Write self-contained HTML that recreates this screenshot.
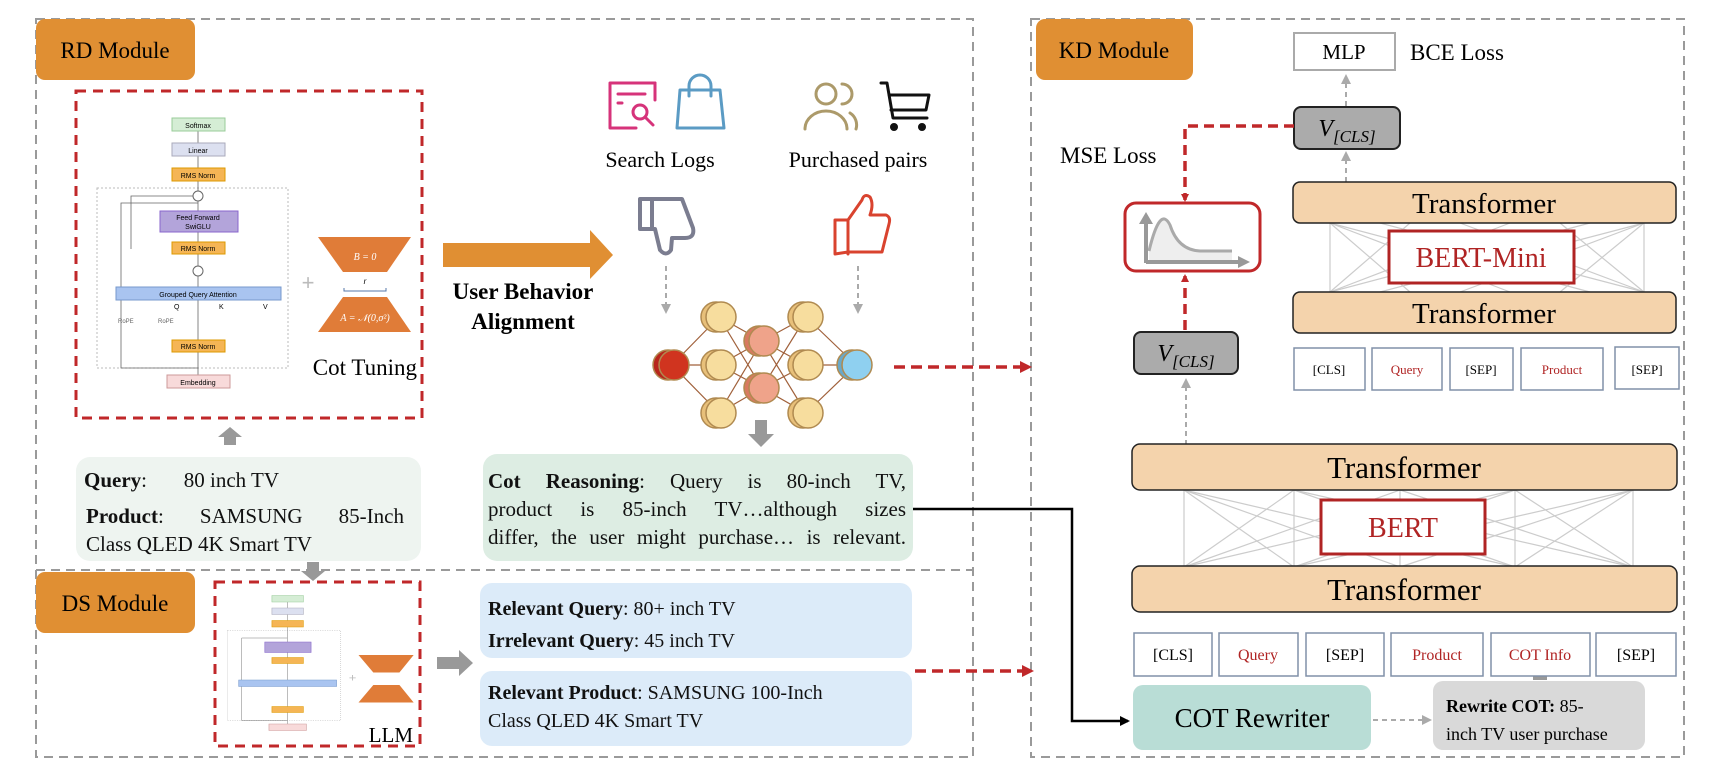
<!DOCTYPE html>
<html><head><meta charset="utf-8"><style>
body{margin:0;background:#fff}
#c{position:relative;width:1714px;height:780px;overflow:hidden;font-family:"Liberation Serif",serif;color:#111}
.t{position:absolute;font-size:20px;line-height:28px}
.j{text-align:justify;text-align-last:justify}
</style></head><body><div id="c">
<svg width="1714" height="780" style="position:absolute;left:0;top:0" font-family="Liberation Serif, serif">
<defs>
<marker id="ar" markerWidth="8" markerHeight="8" refX="6" refY="4" orient="auto" markerUnits="userSpaceOnUse"><path d="M0,0 L8,4 L0,8z" fill="#C0282A"/></marker>
<marker id="ag" markerWidth="10" markerHeight="10" refX="8" refY="5" orient="auto" markerUnits="userSpaceOnUse"><path d="M0,0 L10,5 L0,10z" fill="#aaa"/></marker>
<marker id="ab" markerWidth="10" markerHeight="10" refX="8" refY="5" orient="auto" markerUnits="userSpaceOnUse"><path d="M0,0 L10,5 L0,10z" fill="#000"/></marker>
<marker id="ar2" markerWidth="12" markerHeight="12" refX="10" refY="6" orient="auto" markerUnits="userSpaceOnUse"><path d="M0,0 L12,6 L0,12z" fill="#C0282A"/></marker>
</defs>
<g fill="none" stroke="#9a9a9a" stroke-width="2" stroke-dasharray="9,6">
<rect x="36" y="19" width="937" height="738"/>
<line x1="36" y1="570" x2="973" y2="570"/>
<rect x="1031" y="19" width="653" height="738"/>
</g>
<rect x="36" y="19" width="159" height="61" rx="9" fill="#E08F33"/>
<text x="115" y="58" font-size="23" text-anchor="middle">RD Module</text>
<rect x="36" y="572" width="159" height="61" rx="9" fill="#E08F33"/>
<text x="115" y="611" font-size="23" text-anchor="middle">DS Module</text>
<rect x="1036" y="19" width="157" height="61" rx="9" fill="#E08F33"/>
<text x="1114" y="58" font-size="23" text-anchor="middle">KD Module</text>

<rect x="76" y="91" width="346" height="327" fill="none" stroke="#C0282A" stroke-width="3" stroke-dasharray="10,7"/>
<g transform="translate(76,91)" font-family="Liberation Sans, sans-serif">
<rect x="21" y="97" width="191" height="180" fill="none" stroke="#bbb" stroke-dasharray="2,2"/>
<g stroke="#666" stroke-width="0.8" fill="none">
<line x1="122" y1="40" x2="122" y2="52"/><line x1="122" y1="65" x2="122" y2="77"/><line x1="122" y1="90" x2="122" y2="284"/>
<path d="M122 112 H45 V277 H122"/><path d="M117 105 H55 V158"/>
</g>
<circle cx="122" cy="105" r="5" fill="#fff" stroke="#666"/><circle cx="122" cy="180" r="5" fill="#fff" stroke="#666"/>
<rect x="96" y="27" width="53" height="13" fill="#D5EDD5" stroke="#9c9"/><text x="122" y="37" font-size="7" text-anchor="middle">Softmax</text>
<rect x="96" y="52" width="53" height="13" fill="#DCE0F0" stroke="#aab"/><text x="122" y="62" font-size="7" text-anchor="middle">Linear</text>
<rect x="96" y="77" width="53" height="13" fill="#F5B555" stroke="#d90"/><text x="122" y="87" font-size="7" text-anchor="middle">RMS Norm</text>
<rect x="84" y="120" width="78" height="21" fill="#B3A4DA" stroke="#86c"/><text x="122" y="129" font-size="7" text-anchor="middle">Feed Forward</text><text x="122" y="138" font-size="7" text-anchor="middle">SwiGLU</text>
<rect x="96" y="151" width="53" height="12" fill="#F5B555" stroke="#d90"/><text x="122" y="160" font-size="7" text-anchor="middle">RMS Norm</text>
<rect x="40" y="196" width="165" height="13" fill="#A9C4F0" stroke="#79c"/><text x="122" y="206" font-size="7" text-anchor="middle">Grouped Query Attention</text>
<text x="98" y="218" font-size="7">Q</text><text x="143" y="218" font-size="7">K</text><text x="187" y="218" font-size="7">V</text>
<text x="42" y="232" font-size="6" fill="#666">RoPE</text><text x="82" y="232" font-size="6" fill="#666">RoPE</text>
<rect x="96" y="249" width="53" height="12" fill="#F5B555" stroke="#d90"/><text x="122" y="258" font-size="7" text-anchor="middle">RMS Norm</text>
<rect x="91" y="284" width="63" height="13" fill="#F8DADA" stroke="#c99"/><text x="122" y="294" font-size="7" text-anchor="middle">Embedding</text>
<text x="232" y="199" font-size="22" fill="#bbb" text-anchor="middle">+</text>
<path d="M242 146 H335 L311 181 H267z" fill="#E07C38"/>
<path d="M267 206 H311 L335 241 H242z" fill="#E07C38"/>
<text x="289" y="169" font-size="10" fill="#fff" text-anchor="middle" font-style="italic" font-family="Liberation Serif,serif">B = 0</text>
<text x="289" y="230" font-size="10" fill="#fff" text-anchor="middle" font-style="italic" font-family="Liberation Serif,serif">A = 𝒩(0,σ²)</text>
<path d="M268 197 V200 H310 V197" stroke="#57a" fill="none"/><text x="289" y="193" font-size="8" font-style="italic" text-anchor="middle">r</text>
</g>
<text x="417" y="375" font-size="23" text-anchor="end">Cot Tuning</text>

<rect x="215" y="582" width="205" height="164" fill="none" stroke="#C0282A" stroke-width="3" stroke-dasharray="10,7"/>
<g transform="translate(215,582) scale(0.593,0.5)" font-family="Liberation Sans, sans-serif">
<rect x="21" y="97" width="191" height="180" fill="none" stroke="#bbb" stroke-dasharray="2,2"/>
<g stroke="#666" stroke-width="0.8" fill="none">
<line x1="122" y1="40" x2="122" y2="284"/><path d="M122 112 H45 V277 H122"/>
</g>
<rect x="96" y="27" width="53" height="13" fill="#D5EDD5" stroke="#9c9"/>
<rect x="96" y="52" width="53" height="13" fill="#DCE0F0" stroke="#aab"/>
<rect x="96" y="77" width="53" height="13" fill="#F5B555" stroke="#d90"/>
<rect x="84" y="120" width="78" height="21" fill="#B3A4DA" stroke="#86c"/>
<rect x="96" y="151" width="53" height="12" fill="#F5B555" stroke="#d90"/>
<rect x="40" y="196" width="165" height="13" fill="#A9C4F0" stroke="#79c"/>
<rect x="96" y="249" width="53" height="12" fill="#F5B555" stroke="#d90"/>
<rect x="91" y="284" width="63" height="13" fill="#F8DADA" stroke="#c99"/>
<text x="232" y="199" font-size="22" fill="#bbb" text-anchor="middle">+</text>
<path d="M242 146 H335 L311 181 H267z" fill="#E07C38"/>
<path d="M267 206 H311 L335 241 H242z" fill="#E07C38"/>
</g>
<text x="413" y="742" font-size="21" text-anchor="end">LLM</text>

<path d="M224 445 V437 H218 L230 427 L242 437 H236 V445z" fill="#999"/>
<path d="M307 562 V571 H301 L313 581 L325 571 H319 V562z" fill="#999"/>
<path d="M755 420 V434 H748 L761 447 L774 434 H767 V420z" fill="#999"/>
<path d="M437 657 H459 V650 L473 663 L459 676 V669 H437z" fill="#999"/>
<path d="M1533 680 V670 H1526 L1540 658 L1554 670 H1547 V680z" fill="#999"/>

<path d="M443 243 H590 V230 L613 255 L590 279 V267 H443z" fill="#E08F33"/>
<text x="523" y="299" font-size="23" font-weight="bold" text-anchor="middle">User Behavior</text>
<text x="523" y="329" font-size="23" font-weight="bold" text-anchor="middle">Alignment</text>

<g fill="none" stroke-width="3" stroke-linecap="round" stroke-linejoin="round">
<path d="M655 83 H610 V128 H636" stroke="#D6337A"/><path d="M655 83 V100" stroke="#D6337A"/>
<line x1="618" y1="94" x2="645" y2="94" stroke="#D6337A"/><line x1="618" y1="103" x2="622" y2="103" stroke="#D6337A"/>
<circle cx="640" cy="112" r="7" stroke="#D6337A"/><line x1="645" y1="117" x2="653" y2="125" stroke="#D6337A"/>
<path d="M680 90 H720 L724 128 H677z" stroke="#5B9BC4"/><path d="M689 96 V86 a11 11 0 0 1 22 0 V96" stroke="#5B9BC4"/>
<circle cx="826" cy="94" r="10" stroke="#AC9A6A"/><path d="M805 129 a21 18 0 0 1 42 0" stroke="#AC9A6A"/>
<path d="M842 84 a10 10 0 0 1 0 20" stroke="#AC9A6A"/><path d="M850 113 a14 14 0 0 1 6 16" stroke="#AC9A6A"/>
<path d="M881 83 H887 L893 118 H927 M889 95 H929 L926 110 H891" stroke="#111"/>
<circle cx="894" cy="127" r="2.5" fill="#111" stroke="#111"/><circle cx="922" cy="127" r="2.5" fill="#111" stroke="#111"/>
<path d="M640 199 H682 L693 228 Q695 238 685 238 H672 L671 250 Q666 257 660 250 L655 229 H640z M652 199 V229" stroke="#7B7D90" stroke-width="4"/>
<path d="M835 254 V220 H848 L862 200 Q864 193 870 197 Q874 204 870 215 H886 Q891 217 889 224 L882 252 H848z M848 220 V254" stroke="#D9432F" stroke-width="3"/>
</g>
<text x="660" y="167" font-size="22" text-anchor="middle">Search Logs</text>
<text x="858" y="167" font-size="22" text-anchor="middle">Purchased pairs</text>
<g stroke="#aaa" stroke-width="2" stroke-dasharray="5,4">
<line x1="666" y1="266" x2="666" y2="312" marker-end="url(#ag)"/>
<line x1="858" y1="266" x2="858" y2="312" marker-end="url(#ag)"/>
</g>

<g stroke="#A0603A" stroke-width="1.2">
<line x1="672" y1="365" x2="719" y2="317"/><line x1="672" y1="365" x2="719" y2="365"/><line x1="672" y1="365" x2="719" y2="413"/>
<line x1="719" y1="317" x2="762" y2="341"/><line x1="719" y1="317" x2="762" y2="388"/>
<line x1="719" y1="365" x2="762" y2="341"/><line x1="719" y1="365" x2="762" y2="388"/>
<line x1="719" y1="413" x2="762" y2="341"/><line x1="719" y1="413" x2="762" y2="388"/>
<line x1="806" y1="317" x2="762" y2="341"/><line x1="806" y1="317" x2="762" y2="388"/>
<line x1="806" y1="365" x2="762" y2="341"/><line x1="806" y1="365" x2="762" y2="388"/>
<line x1="806" y1="413" x2="762" y2="341"/><line x1="806" y1="413" x2="762" y2="388"/>
<line x1="856" y1="365" x2="806" y2="317"/><line x1="856" y1="365" x2="806" y2="365"/><line x1="856" y1="365" x2="806" y2="413"/>
</g>
<g stroke="#B08A50" stroke-width="1.5">
<circle cx="668" cy="365" r="15" fill="#B8261C"/><circle cx="674" cy="365" r="15" fill="#D0341F"/>
<circle cx="716" cy="317" r="15" fill="#E8C07A"/><circle cx="721" cy="317" r="15" fill="#F7DD9E"/>
<circle cx="716" cy="365" r="15" fill="#E8C07A"/><circle cx="721" cy="365" r="15" fill="#F7DD9E"/>
<circle cx="716" cy="413" r="15" fill="#E8C07A"/><circle cx="721" cy="413" r="15" fill="#F7DD9E"/>
<circle cx="759" cy="341" r="15" fill="#D87A60"/><circle cx="764" cy="341" r="15" fill="#EFA38A"/>
<circle cx="759" cy="388" r="15" fill="#D87A60"/><circle cx="764" cy="388" r="15" fill="#EFA38A"/>
<circle cx="803" cy="317" r="15" fill="#E8C07A"/><circle cx="808" cy="317" r="15" fill="#F7DD9E"/>
<circle cx="803" cy="365" r="15" fill="#E8C07A"/><circle cx="808" cy="365" r="15" fill="#F7DD9E"/>
<circle cx="803" cy="413" r="15" fill="#E8C07A"/><circle cx="808" cy="413" r="15" fill="#F7DD9E"/>
<circle cx="852" cy="365" r="15" fill="#6aa8c8"/><circle cx="857" cy="365" r="15" fill="#8FD0F0"/>
</g>

<rect x="76" y="457" width="345" height="104" rx="14" fill="#EEF4F0"/>
<rect x="483" y="454" width="430" height="107" rx="14" fill="#DDEDE3"/>
<rect x="480" y="583" width="432" height="75" rx="12" fill="#DCEBF9"/>
<rect x="480" y="671" width="432" height="75" rx="12" fill="#DCEBF9"/>

<line x1="894" y1="367" x2="1030" y2="367" stroke="#C0282A" stroke-width="3.5" stroke-dasharray="11,6" marker-end="url(#ar2)"/>
<line x1="915" y1="671" x2="1032" y2="671" stroke="#C0282A" stroke-width="3.5" stroke-dasharray="11,6" marker-end="url(#ar2)"/>
<path d="M913 509 H1072 V721 H1128" fill="none" stroke="#000" stroke-width="2.5" marker-end="url(#ab)"/>

<rect x="1294" y="33" width="101" height="37" fill="#fff" stroke="#aaa" stroke-width="2"/>
<text x="1344" y="59" font-size="21" text-anchor="middle">MLP</text>
<text x="1410" y="60" font-size="23">BCE Loss</text>
<g stroke="#aaa" stroke-width="2" stroke-dasharray="5,4">
<line x1="1346" y1="106" x2="1346" y2="76" marker-end="url(#ag)"/>
<line x1="1346" y1="182" x2="1346" y2="153" marker-end="url(#ag)"/>
<line x1="1186" y1="445" x2="1186" y2="380" marker-end="url(#ag)"/>
<line x1="1373" y1="720" x2="1430" y2="720" marker-end="url(#ag)"/>
</g>
<rect x="1294" y="107" width="106" height="42" rx="7" fill="#ABABAB" stroke="#222" stroke-width="2"/>
<text x="1347" y="136" font-size="24" text-anchor="middle" font-style="italic">V<tspan font-size="17" dy="6">[CLS]</tspan></text>
<rect x="1134" y="332" width="104" height="42" rx="7" fill="#ABABAB" stroke="#222" stroke-width="2"/>
<text x="1186" y="361" font-size="24" text-anchor="middle" font-style="italic">V<tspan font-size="17" dy="6">[CLS]</tspan></text>
<text x="1060" y="163" font-size="23">MSE Loss</text>
<path d="M1294 126 H1185 V200" fill="none" stroke="#C0282A" stroke-width="3.5" stroke-dasharray="10,6" marker-end="url(#ar)"/>
<path d="M1185 330 V276" fill="none" stroke="#C0282A" stroke-width="3.5" stroke-dasharray="10,6" marker-end="url(#ar)"/>
<rect x="1125" y="203" width="135" height="68" rx="11" fill="#fff" stroke="#C0282A" stroke-width="3"/>
<path d="M1149 251 Q1160 205 1170 225 Q1178 250 1200 251 H1232 V260 H1149z" fill="#eee"/>
<path d="M1149 251 Q1160 205 1170 225 Q1178 250 1200 251 H1232" fill="none" stroke="#aaa" stroke-width="3"/>
<path d="M1146 263 V222 M1146 262 H1240" fill="none" stroke="#999" stroke-width="4"/>
<path d="M1139 224 L1146 212 L1153 224z M1238 256 L1250 262 L1238 268z" fill="#999"/>

<g stroke="#ccc" stroke-width="1.2">
<line x1="1330" y1="223" x2="1330" y2="292"/><line x1="1644" y1="223" x2="1644" y2="292"/>
<line x1="1330" y1="223" x2="1410" y2="292"/><line x1="1330" y1="292" x2="1410" y2="223"/>
<line x1="1330" y1="223" x2="1510" y2="292"/><line x1="1330" y1="292" x2="1510" y2="223"/>
<line x1="1330" y1="223" x2="1590" y2="292"/><line x1="1330" y1="292" x2="1590" y2="223"/>
<line x1="1644" y1="223" x2="1560" y2="292"/><line x1="1644" y1="292" x2="1560" y2="223"/>
<line x1="1644" y1="223" x2="1460" y2="292"/><line x1="1644" y1="292" x2="1460" y2="223"/>
<line x1="1644" y1="223" x2="1380" y2="292"/><line x1="1644" y1="292" x2="1380" y2="223"/>
</g>
<rect x="1293" y="182" width="383" height="41" rx="7" fill="#F4D3AC" stroke="#222" stroke-width="1.5"/>
<text x="1484" y="213" font-size="29" text-anchor="middle">Transformer</text>
<rect x="1293" y="292" width="383" height="41" rx="7" fill="#F4D3AC" stroke="#222" stroke-width="1.5"/>
<text x="1484" y="323" font-size="29" text-anchor="middle">Transformer</text>
<rect x="1389" y="231" width="185" height="52" fill="#fff" stroke="#B02424" stroke-width="3"/>
<text x="1481" y="267" font-size="28" fill="#B02424" text-anchor="middle">BERT-Mini</text>
<g fill="#fff" stroke="#8090A8" stroke-width="1.5">
<rect x="1294" y="348" width="71" height="42"/><rect x="1372" y="348" width="70" height="42"/><rect x="1450" y="348" width="63" height="42"/><rect x="1521" y="348" width="82" height="42"/><rect x="1615" y="347" width="64" height="42"/>
</g>
<g font-size="13" text-anchor="middle">
<text x="1329" y="374">[CLS]</text><text x="1407" y="374" fill="#B02424">Query</text><text x="1481" y="374">[SEP]</text><text x="1562" y="374" fill="#B02424">Product</text><text x="1647" y="374">[SEP]</text>
</g>

<g stroke="#ccc" stroke-width="1.2">
<line x1="1184" y1="490" x2="1184" y2="567"/><line x1="1294" y1="490" x2="1294" y2="567"/><line x1="1400" y1="490" x2="1400" y2="567"/><line x1="1515" y1="490" x2="1515" y2="567"/><line x1="1633" y1="490" x2="1633" y2="567"/>
<line x1="1184" y1="490" x2="1294" y2="567"/><line x1="1184" y1="567" x2="1294" y2="490"/>
<line x1="1184" y1="490" x2="1400" y2="567"/><line x1="1184" y1="567" x2="1400" y2="490"/>
<line x1="1294" y1="490" x2="1515" y2="567"/><line x1="1294" y1="567" x2="1515" y2="490"/>
<line x1="1400" y1="490" x2="1633" y2="567"/><line x1="1400" y1="567" x2="1633" y2="490"/>
<line x1="1515" y1="490" x2="1633" y2="567"/><line x1="1515" y1="567" x2="1633" y2="490"/>
<line x1="1184" y1="490" x2="1515" y2="567"/><line x1="1184" y1="567" x2="1515" y2="490"/>
<line x1="1294" y1="490" x2="1633" y2="567"/><line x1="1294" y1="567" x2="1633" y2="490"/>
</g>
<rect x="1132" y="444" width="545" height="46" rx="8" fill="#F4D3AC" stroke="#222" stroke-width="1.5"/>
<text x="1404" y="478" font-size="31" text-anchor="middle">Transformer</text>
<rect x="1132" y="566" width="545" height="46" rx="8" fill="#F4D3AC" stroke="#222" stroke-width="1.5"/>
<text x="1404" y="600" font-size="31" text-anchor="middle">Transformer</text>
<rect x="1321" y="500" width="164" height="54" fill="#fff" stroke="#B02424" stroke-width="3"/>
<text x="1403" y="537" font-size="28" fill="#B02424" text-anchor="middle">BERT</text>
<g fill="#fff" stroke="#8090A8" stroke-width="1.5">
<rect x="1134" y="633" width="78" height="43"/><rect x="1219" y="633" width="79" height="43"/><rect x="1306" y="633" width="78" height="43"/><rect x="1391" y="633" width="92" height="43"/><rect x="1491" y="633" width="99" height="43"/><rect x="1596" y="633" width="80" height="43"/>
</g>
<g font-size="16" text-anchor="middle">
<text x="1173" y="660">[CLS]</text><text x="1258" y="660" fill="#B02424">Query</text><text x="1345" y="660">[SEP]</text><text x="1437" y="660" fill="#B02424">Product</text><text x="1540" y="660" fill="#B02424">COT Info</text><text x="1636" y="660">[SEP]</text>
</g>
<rect x="1133" y="685" width="238" height="65" rx="10" fill="#B9DDD6"/>
<text x="1252" y="727" font-size="27" text-anchor="middle">COT Rewriter</text>
<rect x="1433" y="681" width="212" height="69" rx="10" fill="#D9D9D9"/>
<text x="1446" y="712" font-size="18"><tspan font-weight="bold">Rewrite COT:</tspan> 85-</text>
<text x="1446" y="740" font-size="18">inch TV user purchase</text>
</svg>

<div class="t" style="left:84px;top:466px;width:322px;font-size:21px"><b>Query</b>:&nbsp;&nbsp;&nbsp;&nbsp;&nbsp;&nbsp;&nbsp;80 inch TV</div>
<div class="t j" style="left:86px;top:502px;width:318px;font-size:21px"><b>Product</b>: &nbsp;SAMSUNG &nbsp;85-Inch</div>
<div class="t" style="left:86px;top:530px;width:318px;font-size:21px">Class QLED 4K Smart TV</div>

<div class="t j" style="left:488px;top:467px;width:418px;font-size:21px"><b>Cot Reasoning</b>: Query is 80-inch TV,</div>
<div class="t j" style="left:488px;top:495px;width:418px;font-size:21px">product is 85-inch TV…although sizes</div>
<div class="t j" style="left:488px;top:523px;width:418px;font-size:21px">differ, the user might purchase… is relevant.</div>

<div class="t" style="left:488px;top:593px;font-size:20px;line-height:32px"><b>Relevant Query</b>: 80+ inch TV<br><b>Irrelevant Query</b>: 45 inch TV</div>
<div class="t" style="left:488px;top:679px;width:418px;font-size:20px;line-height:28px"><b>Relevant Product</b>: SAMSUNG 100-Inch<br>Class QLED 4K Smart TV</div>
</div></body></html>
